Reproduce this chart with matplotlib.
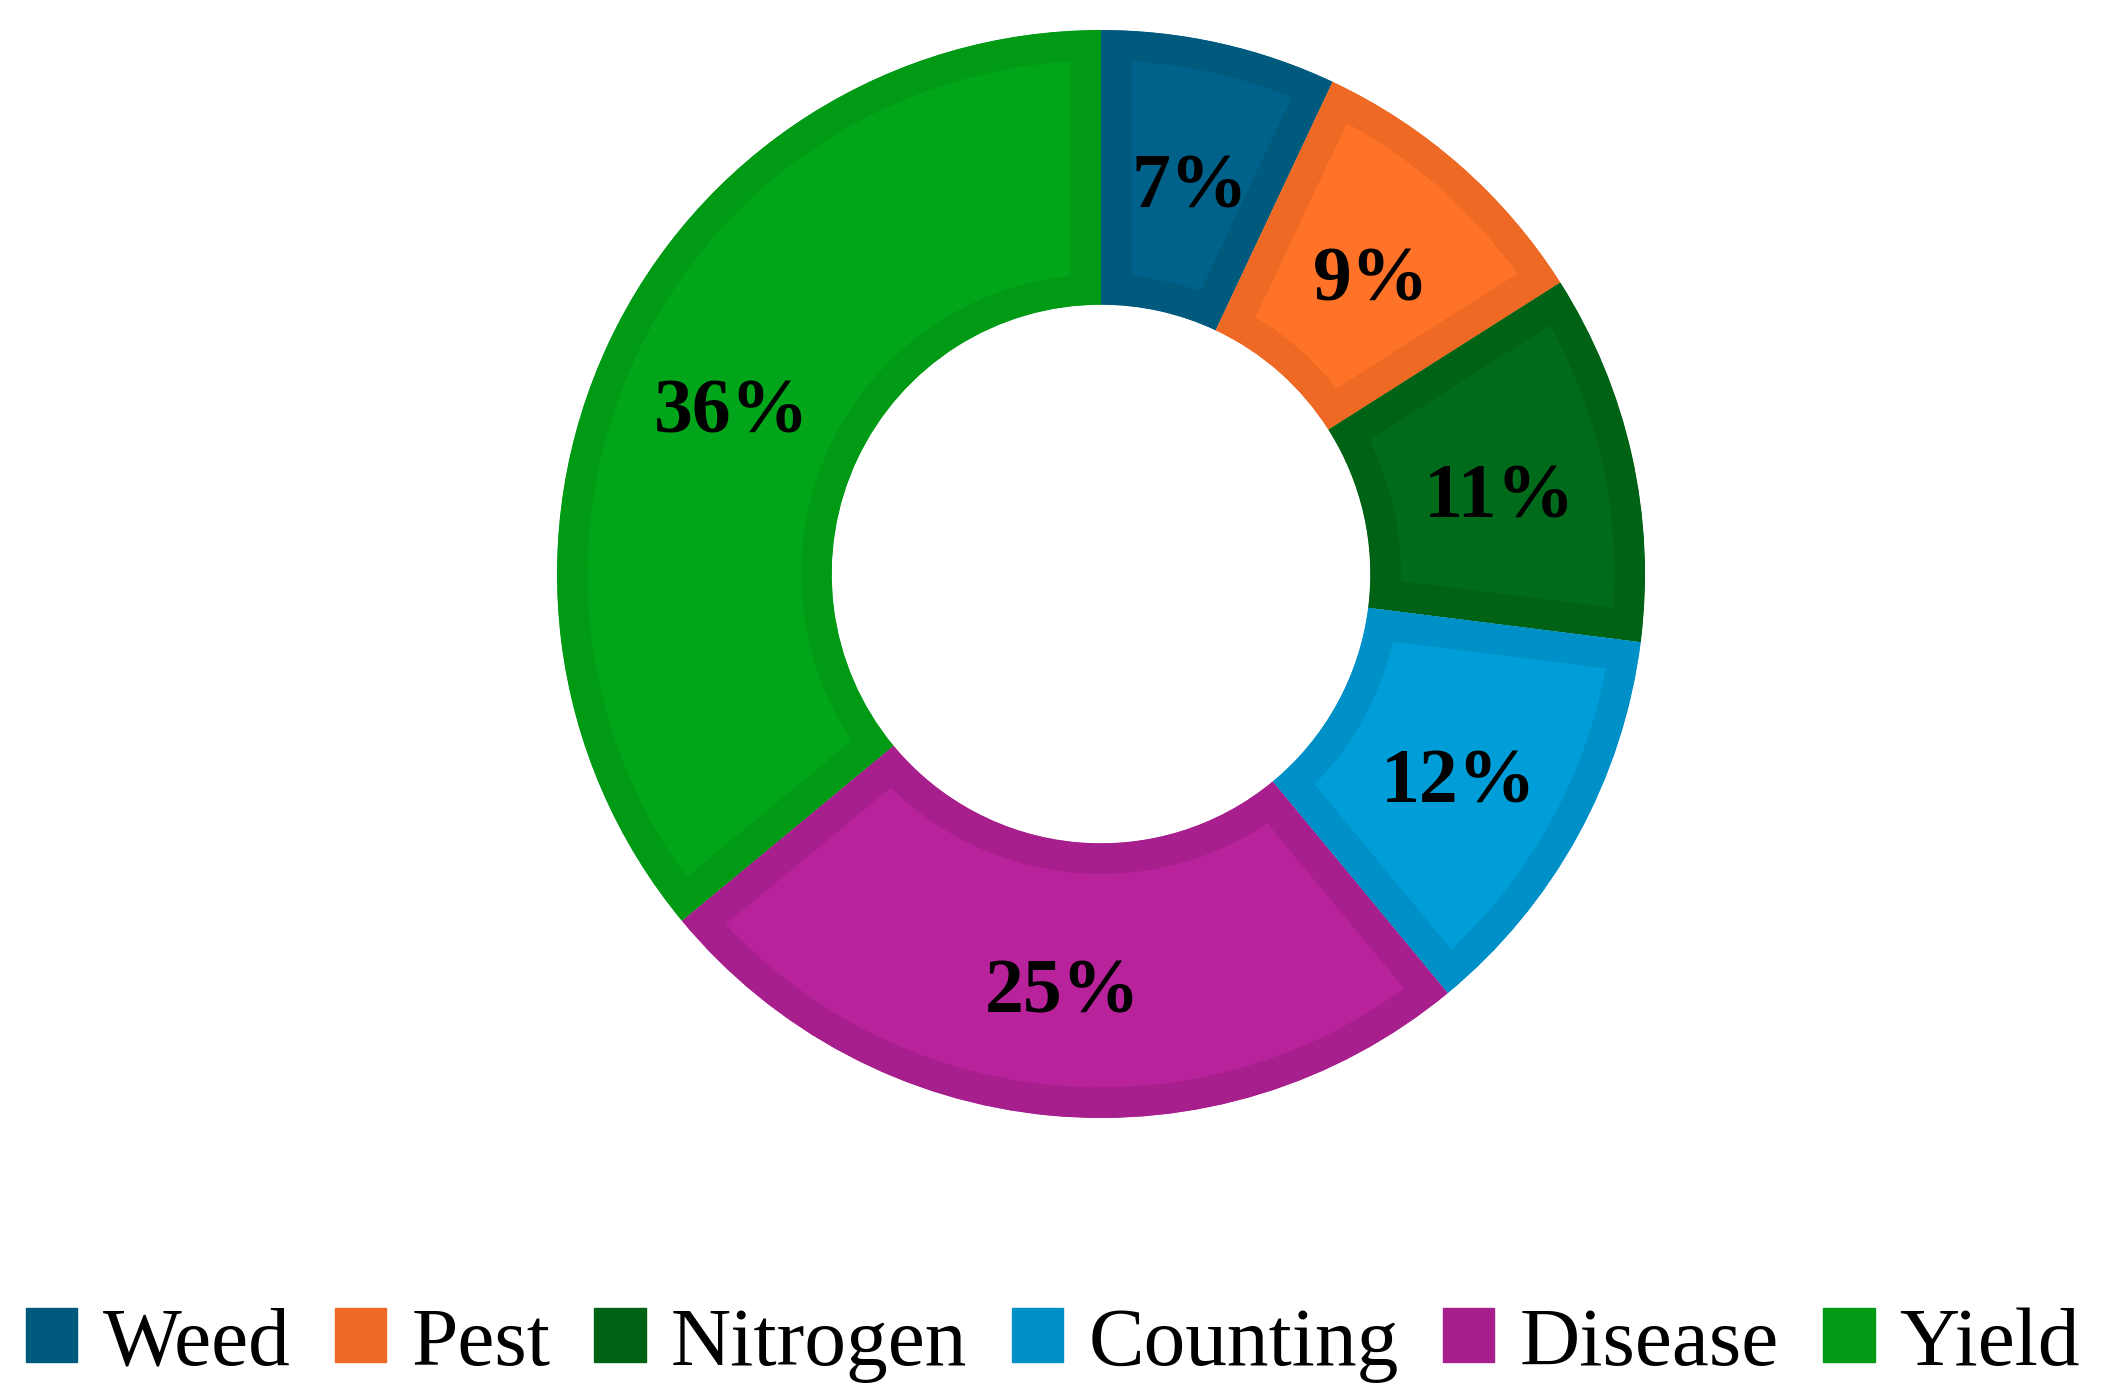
import numpy as np
from matplotlib import pyplot as plt

categories = ['Weed', 'Pest', 'Nitrogen', 'Counting', 'Disease', 'Yield']
shares = [7, 9, 11, 12, 25, 36]
labels = ['7%', '9%', '11%', '12%', '25%', '36%']
fills = ['#00628A', '#FF7328', '#006B1A', '#009ED8', '#B8229A', '#00A51A']
borders = ['#005A7E', '#EE6A24', '#006214', '#0090C8', '#A61F8D', '#009A14']

plt.rcParams['font.family'] = ['Liberation Serif', 'DejaVu Serif']

fig = plt.figure(figsize=(21.06, 13.95), dpi=100)
# centre ~ (1101, 574) px, outer radius ~ 544 px
ax = fig.add_axes([(1101 - 544) / 2106, (1395 - 574 - 544) / 1395,
                   1088 / 2106, 1088 / 1395])

wedges, texts = ax.pie(shares, colors=fills, startangle=90, counterclock=False,
                       radius=1.0, wedgeprops=dict(width=0.505, linewidth=0))

# darker inner border like the office-style rendering
for w, bc in zip(wedges, borders):
    w.set_edgecolor(bc)
    w.set_linewidth(44)
    w.set_clip_on(True)
    w.set_clip_path(w)

for w, lab in zip(wedges, labels):
    ang = np.deg2rad((w.theta1 + w.theta2) / 2)
    r = 0.75
    ax.text(r * np.cos(ang), r * np.sin(ang) - 0.025, lab, ha='center', va='center',
            fontsize=56, fontweight='bold', color='black')

ax.set_xlim(-1, 1)
ax.set_ylim(-1, 1)
ax.set_aspect('equal')
ax.axis('off')

handles = [plt.Rectangle((0, 0), 1, 1, color=c) for c in borders]
fig.legend(handles, categories, loc='center', bbox_to_anchor=(0.5, 1 - 1345 / 1395),
           ncol=6, frameon=False, fontsize=60, handlelength=0.62, handleheight=0.62,
           handletextpad=0.3, columnspacing=0.53, borderpad=0)

fig.savefig('out.png', dpi=100)
